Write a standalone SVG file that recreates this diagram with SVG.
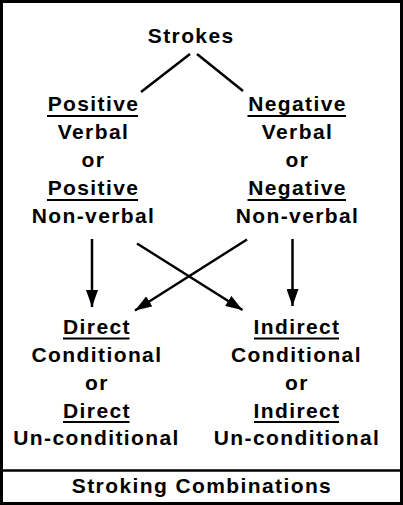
<svg xmlns="http://www.w3.org/2000/svg" width="403" height="505" viewBox="0 0 403 505">
<style>
text{font-family:"Liberation Sans",Arial,sans-serif;font-weight:bold;font-size:21px;letter-spacing:1.4px;fill:#000;text-anchor:middle}
.ul{stroke:#000;stroke-width:2}
.c{stroke:#000;stroke-width:2.5;fill:none}
</style>
<defs>
<marker id="ah" markerUnits="userSpaceOnUse" markerWidth="18" markerHeight="12" refX="17" refY="6" orient="auto">
<path d="M0,0 L17,6 L0,12 Z" fill="#000"/>
</marker>
</defs>
<rect x="1.5" y="1.5" width="400" height="502" fill="#fff" stroke="#000" stroke-width="3"/>
<line x1="0" y1="470.5" x2="403" y2="470.5" stroke="#000" stroke-width="2.5"/>
<g id="strokes"><text x="191.2" y="43">Strokes</text></g>
<g id="positive">
<text x="93.5" y="111">Positive</text>
<line class="ul" x1="47" y1="116" x2="138" y2="116"/>
<text x="93.5" y="139">Verbal</text>
<text x="93.5" y="167">or</text>
<text x="93.5" y="195">Positive</text>
<line class="ul" x1="47" y1="200" x2="138" y2="200"/>
<text x="93.5" y="223">Non-verbal</text>
</g>
<g id="negative">
<text x="297.5" y="111">Negative</text>
<line class="ul" x1="247.5" y1="116" x2="346" y2="116"/>
<text x="297.5" y="139">Verbal</text>
<text x="297.5" y="167">or</text>
<text x="297.5" y="195">Negative</text>
<line class="ul" x1="247.5" y1="200" x2="346" y2="200"/>
<text x="297.5" y="223">Non-verbal</text>
</g>
<g id="direct">
<text x="97" y="334">Direct</text>
<line class="ul" x1="63" y1="338.5" x2="129.5" y2="338.5"/>
<text x="97" y="362">Conditional</text>
<text x="97" y="389.5">or</text>
<text x="97" y="417.5">Direct</text>
<line class="ul" x1="63" y1="422" x2="129.5" y2="422"/>
<text x="96.5" y="445">Un-conditional</text>
</g>
<g id="indirect">
<text x="297" y="334">Indirect</text>
<line class="ul" x1="254" y1="338.5" x2="339" y2="338.5"/>
<text x="296.5" y="362">Conditional</text>
<text x="297" y="389.5">or</text>
<text x="297" y="417.5">Indirect</text>
<line class="ul" x1="254" y1="422" x2="339" y2="422"/>
<text x="297" y="445">Un-conditional</text>
</g>
<g id="footer"><text x="202" y="493">Stroking Combinations</text></g>
<g id="connectors">
<line class="c" x1="190" y1="54" x2="141" y2="92"/>
<line class="c" x1="197" y1="54" x2="243" y2="91"/>
<line class="c" x1="92" y1="239" x2="92" y2="307" marker-end="url(#ah)"/>
<line class="c" x1="292.5" y1="239" x2="292.5" y2="306" marker-end="url(#ah)"/>
<line class="c" x1="137" y1="243.5" x2="242.5" y2="310" marker-end="url(#ah)"/>
<line class="c" x1="247" y1="239.5" x2="135" y2="310.5" marker-end="url(#ah)"/>
</g>
</svg>
